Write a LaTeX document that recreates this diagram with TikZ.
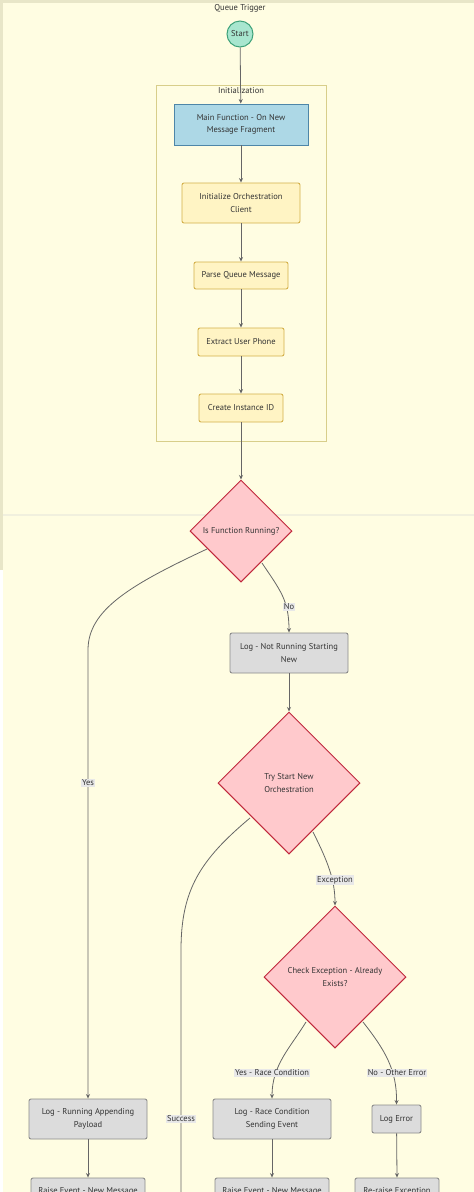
\documentclass[tikz,border=0pt]{standalone}
\usepackage{fontspec}
\setmainfont{PT Sans}
\usetikzlibrary{shapes.geometric,arrows.meta,calc}
\definecolor{bg}{HTML}{FFFDE2}
\definecolor{qborder}{HTML}{E8E6C8}
\definecolor{iborder}{HTML}{D8CE8A}
\definecolor{txt}{HTML}{333333}
\definecolor{sfill}{HTML}{A8E6CF}
\definecolor{sborder}{HTML}{3FA27A}
\definecolor{bfill}{HTML}{ADD8E6}
\definecolor{bborder}{HTML}{4E86A8}
\definecolor{yfill}{HTML}{FFF4C4}
\definecolor{yborder}{HTML}{D4B04A}
\definecolor{dfill}{HTML}{FFC9CC}
\definecolor{dborder}{HTML}{C0283C}
\definecolor{gfill}{HTML}{DCDCDC}
\definecolor{gborder}{HTML}{8A8A8A}
\definecolor{ecol}{HTML}{666666}
\definecolor{lfill}{HTML}{E8E8E8}
\begin{document}
\begin{tikzpicture}[x=1pt,y=-1pt,
  font=\fontsize{8.5}{12.5}\selectfont, text=txt,
  box/.style={draw, rounded corners=2pt, line width=0.9pt, align=center, inner sep=0pt},
  bluebox/.style={box, rounded corners=0pt, fill=bfill, draw=bborder},
  yellowbox/.style={box, fill=yfill, draw=yborder},
  graybox/.style={box, fill=gfill, draw=gborder},
  decision/.style={diamond, aspect=1, draw=dborder, fill=dfill, line width=1pt, inner sep=0pt, align=center},
  startnode/.style={circle, draw=sborder, fill=sfill, line width=1pt, minimum size=26pt, inner sep=0pt},
  conn/.style={draw=ecol, line width=0.8pt, -{Stealth[length=4.5pt,width=4pt]}},
  elabel/.style={fill=lfill, inner sep=1.2pt, text=txt},
  grouptitle/.style={text=txt, inner sep=0pt}]
\useasboundingbox (0,0) rectangle (474,1192);
\clip (0,0) rectangle (474,1192);
\fill[bg] (0,0) rectangle (474,1192);
% Queue Trigger group
\fill[white] (0,570) rectangle (3,1192);
\draw[qborder, line width=3pt] (0,1.5) -- (474,1.5);
\draw[qborder, line width=3pt] (1.5,0) -- (1.5,570);
\draw[qborder!60, line width=1.5pt] (3,515) -- (474,515);
\node[grouptitle] (qtitle) at (240,8) {Queue Trigger};
% Initialization group
\node[draw=iborder, line width=0.7pt, minimum width=170pt, minimum height=356pt, inner sep=0pt] (initgrp) at (241,263) {};
\node[grouptitle] (ititle) at (241,91) {Initialization};

\node[startnode] (start) at (240,34) {Start};
\node[bluebox, minimum width=134pt, minimum height=41pt] (main) at (241,124.5) {Main Function - On New\\Message Fragment};
\node[yellowbox, minimum width=118pt, minimum height=40pt] (initc) at (241,203) {Initialize Orchestration\\Client};
\node[yellowbox, minimum width=94pt, minimum height=27pt] (parse) at (241,275.5) {Parse Queue Message};
\node[yellowbox, minimum width=86pt, minimum height=28pt] (extract) at (241,342) {Extract User Phone};
\node[yellowbox, minimum width=84pt, minimum height=28pt] (create) at (241,408) {Create Instance ID};

\node[decision, minimum width=102pt, minimum height=102pt] (isrun) at (241,531) {Is Function Running?};
\node[graybox, minimum width=118pt, minimum height=40pt] (lognot) at (289,653) {Log - Not Running Starting\\New};
\node[decision, minimum width=142pt, minimum height=142pt] (trystart) at (289,783) {Try Start New\\Orchestration};
\node[decision, minimum width=142pt, minimum height=142pt] (checkex) at (335,977) {Check Exception - Already\\Exists?};

\node[graybox, minimum width=118pt, minimum height=40pt] (logrun) at (88,1119) {Log - Running Appending\\Payload};
\node[graybox, minimum width=118pt, minimum height=40pt] (lograce) at (272,1119) {Log - Race Condition\\Sending Event};
\node[graybox, minimum width=49pt, minimum height=28pt] (logerr) at (396.5,1119) {Log Error};

\node[graybox, minimum width=114pt, minimum height=26pt] (raise1) at (88,1191) {Raise Event - New Message};
\node[graybox, minimum width=114pt, minimum height=26pt] (raise2) at (272,1191) {Raise Event - New Message};
\node[graybox, minimum width=84pt, minimum height=26pt] (reraise) at (397,1191) {Re-raise Exception};

\coordinate (succend) at (181,1200);

% connectors
\draw[conn] (start) -- (main);
\draw[conn] (main) -- (initc);
\draw[conn] (initc) -- (parse);
\draw[conn] (parse) -- (extract);
\draw[conn] (extract) -- (create);
\draw[conn] (create) -- (isrun.north);
\draw[conn] ($(isrun.center)+(-34,18)$) .. controls (130,585) and (88,610) .. (88,650) -- (logrun.north);
\draw[conn] ($(isrun.center)+(21,32)$) .. controls (280,590) and (289,600) .. (lognot.north);
\draw[conn] (lognot) -- (trystart.north);
\draw[conn] ($(trystart.center)+(24,49)$) .. controls (328,862) and (335,880) .. (checkex.north);
\draw[draw=ecol, line width=0.8pt] ($(trystart.center)+(-39,35)$) .. controls (200,860) and (181,890) .. (181,950) -- (succend);
\draw[conn] ($(checkex.center)+(-29,45)$) .. controls (290,1048) and (272,1065) .. (lograce.north);
\draw[conn] ($(checkex.center)+(28,45)$) .. controls (385,1050) and (397,1070) .. (logerr.north);
\draw[conn] (logrun) -- (raise1.north);
\draw[conn] (lograce) -- (raise2.north);
\draw[conn] (logerr) -- (reraise.north);

% edge labels
\node[elabel] (lyes) at (88,783) {Yes};
\node[elabel] (lno) at (289,607) {No};
\node[elabel] (lexc) at (335,880) {Exception};
\node[elabel] (lsucc) at (181,1119) {Success};
\node[elabel] (lrace) at (272,1073) {Yes - Race Condition};
\node[elabel] (lother) at (397,1073) {No - Other Error};
\end{tikzpicture}
\end{document}
